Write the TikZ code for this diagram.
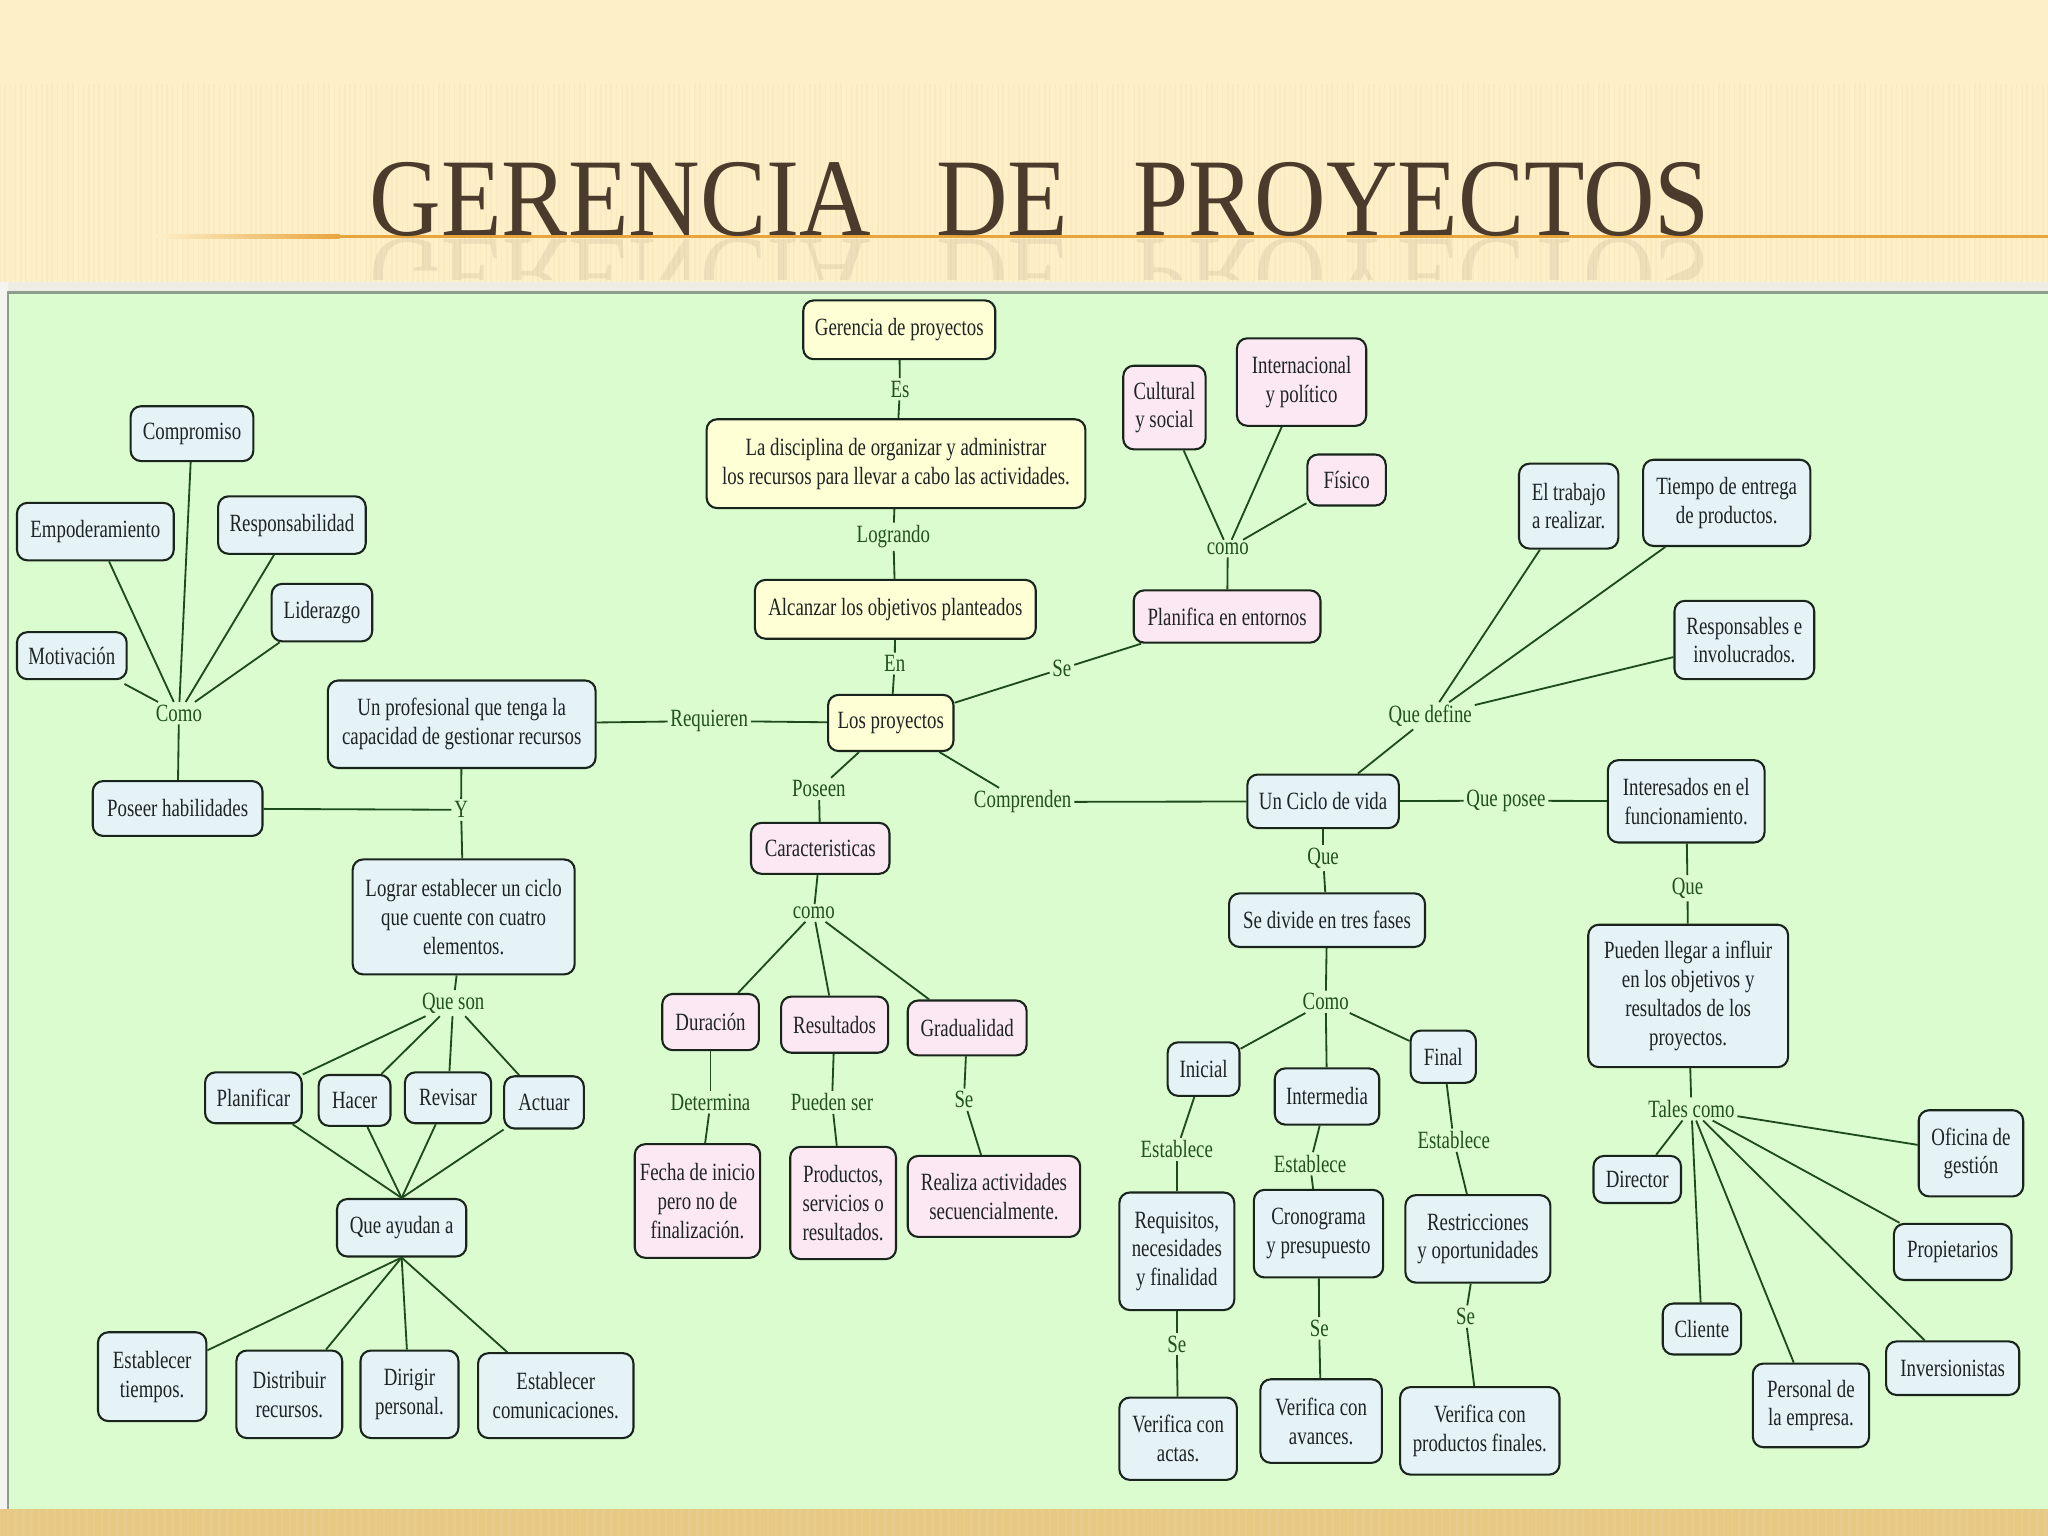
\documentclass[tikz,border=0pt]{standalone}
\usepackage{graphicx}
\usepackage{fontspec}
\setmainfont{Liberation Serif}[FakeStretch=0.76]
\newfontfamily\titlefont{Liberation Serif}
\usetikzlibrary{calc}
\definecolor{bgcream}{HTML}{FDF0C9}
\definecolor{stripec}{HTML}{E2B870}
\definecolor{graystrip}{HTML}{EDEDE6}
\definecolor{panelg}{HTML}{DBFCCF}
\definecolor{panelb}{HTML}{8E9E8E}
\definecolor{bandc}{HTML}{E8C984}
\definecolor{orng}{HTML}{E9A53C}
\definecolor{titlec}{HTML}{4A3B2C}
\definecolor{yel}{HTML}{FFFFD6}
\definecolor{pnk}{HTML}{FCE8F2}
\definecolor{blu}{HTML}{E5F3F7}
\definecolor{bord}{HTML}{18241C}
\definecolor{txt}{HTML}{1E2323}
\definecolor{lbl}{HTML}{22501D}
\definecolor{edg}{HTML}{1E4A1E}
\newcommand{\titletext}{GERENCIA\hspace{0.66em}DE\hspace{0.66em}PROYECTOS}
\begin{document}
\begin{tikzpicture}[x=1pt,y=-1pt,
  bx/.style={draw=bord, line width=1.6pt, rounded corners=8pt, text=txt, align=center, inner sep=0pt, font=\fontsize{19}{22}\selectfont},
  yb/.style={bx, fill=yel}, pb/.style={bx, fill=pnk}, bb/.style={bx, fill=blu},
  sz/.style 2 args={minimum width=#1, minimum height=#2},
  lb/.style={text=lbl, inner sep=2pt, font=\fontsize{19}{22}\selectfont},
  edge/.style={draw=edg, line width=1.4pt},
]
% ---------- background ----------
\useasboundingbox (0,0) rectangle (1568,1176);
\fill[bgcream] (0,0) rectangle (1568,1176);
\foreach \i in {0,4,...,1568} {\draw[stripec, opacity=0.10, line width=1.2pt] (\i,64) -- (\i,217);}
\shade[left color=bgcream, right color=orng] (118,179.8) rectangle (260,182.4);
\fill[orng] (260,179.8) rectangle (1568,182.4);
\node[anchor=base west, inner sep=0pt, text=titlec, font=\titlefont] (title) at (283,180) {\resizebox{1025pt}{56pt}{\titletext}};
\begin{scope}
  \clip (0,182.4) rectangle (1568,214);
  \node[anchor=north west, inner sep=0pt, text=titlec, text opacity=0.09, font=\titlefont] (refl) at (283,182.4) {\scalebox{1}[-1]{\resizebox{1025pt}{56pt}{\titletext}}};
\end{scope}
\fill[graystrip] (0,216) rectangle (1568,224);
\fill[graystrip!60!white] (0,216) rectangle (6,1155);
\fill[panelg] (6,224) rectangle (1568,1155);
\draw[panelb, line width=2pt] (6,1155) -- (6,224) -- (1568,224);
\fill[bandc] (0,1155) rectangle (1568,1176);
\foreach \i in {0,6,...,1568} {\draw[white, opacity=0.06, line width=2pt] (\i,1155) -- (\i,1176);}

% ---------- centre column ----------
\node[yb, sz={147}{45}] (g) at (688.5,252.5) {Gerencia de proyectos};
\node[yb, sz={290}{68}] (dis) at (686,355) {La disciplina de organizar y administrar\\los recursos para llevar a cabo las actividades.};
\node[yb, sz={215}{45}] (alc) at (685.5,466.5) {Alcanzar los objetivos planteados};
\node[yb, sz={96}{43}] (proy) at (682,553.5) {Los proyectos};
\node[lb] (es) at (689,298) {Es};
\node[lb] (log) at (684,411) {Logrando};
\node[lb] (en) at (685,508) {En};
\node[lb] (req) at (543,552) {Requieren};
\node[lb] (se1) at (813,512) {Se};
\node[lb] (pos) at (627,604) {Poseen};
\node[lb] (comp) at (783,614) {Comprenden};

% ---------- pink ----------
\node[pb, sz={63}{64}] (cult) at (891.5,312) {Cultural\\y social};
\node[pb, sz={99}{67}] (intl) at (996.5,292.5) {Internacional\\y político};
\node[pb, sz={60}{39}] (fis) at (1031,367.5) {Físico};
\node[lb] (como2) at (940,420) {como};
\node[pb, sz={143}{40}] (plan) at (939.5,472) {Planifica en entornos};
\node[pb, sz={106}{39}] (car) at (628,649.5) {Caracteristicas};
\node[lb] (como3) at (623,699) {como};
\node[pb, sz={74}{43}] (dur) at (544,782.5) {Duración};
\node[pb, sz={82}{43}] (res) at (639,784.5) {Resultados};
\node[pb, sz={91}{42}] (gra) at (740.5,787) {Gradualidad};
\node[lb] (det) at (544,844) {Determina};
\node[lb] (pue) at (637,844) {Pueden ser};
\node[lb] (se2) at (738,842) {Se};
\node[pb, sz={96}{87}] (fec) at (534,919.5) {Fecha de inicio\\pero no de\\finalización.};
\node[pb, sz={81}{86}] (prod) at (645.5,921) {Productos,\\servicios o\\resultados.};
\node[pb, sz={132}{62}] (rea) at (761,916) {Realiza actividades\\secuencialmente.};

% ---------- blue left ----------
\node[bb, sz={94}{42}] (cmp) at (147,332) {Compromiso};
\node[bb, sz={120}{44}] (emp) at (73,407) {Empoderamiento};
\node[bb, sz={113}{44}] (rsp) at (223.5,402) {Responsabilidad};
\node[bb, sz={77}{44}] (lid) at (246.5,469) {Liderazgo};
\node[bb, sz={84}{36}] (mot) at (55,502) {Motivación};
\node[lb] (como1) at (137,546) {Como};
\node[bb, sz={205}{67}] (prof) at (353.5,554.5) {Un profesional que tenga la\\capacidad de gestionar recursos};
\node[bb, sz={130}{42}] (pos2) at (136,619) {Poseer habilidades};
\node[lb] (yy) at (353,620) {Y};
\node[bb, sz={170}{88}] (logr) at (355,702) {Lograr establecer un ciclo\\que cuente con cuatro\\elementos.};
\node[lb] (qson) at (347,768) {Que son};
\node[bb, sz={74}{39}] (plani) at (194,840.5) {Planificar};
\node[bb, sz={55}{39}] (hac) at (271.5,842.5) {Hacer};
\node[bb, sz={66}{39}] (rev) at (343,840.5) {Revisar};
\node[bb, sz={61}{40}] (act) at (416.5,844) {Actuar};
\node[bb, sz={99}{44}] (qay) at (307.5,940) {Que ayudan a};
\node[bb, sz={83}{68}] (et) at (116.5,1054) {Establecer\\tiempos.};
\node[bb, sz={81}{67}] (dr) at (221.5,1067.5) {Distribuir\\recursos.};
\node[bb, sz={75}{67}] (dp) at (313.5,1067.5) {Dirigir\\personal.};
\node[bb, sz={119}{65}] (ec) at (425.5,1068.5) {Establecer\\comunicaciones.};

% ---------- blue right ----------
\node[bb, sz={116}{41}] (cic) at (1013,613.5) {Un Ciclo de vida};
\node[lb] (qdef) at (1095,548) {Que define};
\node[bb, sz={76}{65}] (trab) at (1201,387.5) {El trabajo\\a realizar.};
\node[bb, sz={128}{66}] (tiem) at (1322,385) {Tiempo de entrega\\de productos.};
\node[bb, sz={107}{60}] (resp) at (1335.5,490) {Responsables e\\involucrados.};
\node[lb] (qpos) at (1153,613) {Que posee};
\node[bb, sz={120}{63}] (int) at (1291,613.5) {Interesados en el\\funcionamiento.};
\node[lb] (que2) at (1292,680) {Que};
\node[bb, sz={153}{109}] (pued) at (1292.5,762.5) {Pueden llegar a influir\\en los objetivos y\\resultados de los\\proyectos.};
\node[lb] (tal) at (1295,849) {Tales como};
\node[bb, sz={67}{36}] (dirn) at (1253.5,903) {Director};
\node[bb, sz={80}{66}] (ofi) at (1509,883) {Oficina de\\gestión};
\node[bb, sz={90}{43}] (prop) at (1495,958.5) {Propietarios};
\node[bb, sz={60}{39}] (cli) at (1303,1017.5) {Cliente};
\node[bb, sz={102}{41}] (inv) at (1495,1047.5) {Inversionistas};
\node[bb, sz={89}{64}] (per) at (1386.5,1076) {Personal de\\la empresa.};
\node[lb] (que1) at (1013,657) {Que};
\node[bb, sz={150}{41}] (div) at (1016,704.5) {Se divide en tres fases};
\node[lb] (como4) at (1015,767) {Como};
\node[bb, sz={55}{41}] (ini) at (921.5,818.5) {Inicial};
\node[bb, sz={80}{43}] (inter) at (1016,839.5) {Intermedia};
\node[bb, sz={50}{40}] (fin) at (1105,809) {Final};
\node[lb] (est1) at (901,880) {Establece};
\node[lb] (est2) at (1003,891) {Establece};
\node[lb] (est3) at (1113,873) {Establece};
\node[bb, sz={88}{90}] (req2) at (901,958) {Requisitos,\\necesidades\\y finalidad};
\node[bb, sz={99}{67}] (cro) at (1009.5,944.5) {Cronograma\\y presupuesto};
\node[bb, sz={111}{67}] (rst) at (1131.5,948.5) {Restricciones\\y oportunidades};
\node[lb] (se3) at (901,1029) {Se};
\node[lb] (se4) at (1010,1017) {Se};
\node[lb] (se5) at (1122,1008) {Se};
\node[bb, sz={90}{63}] (va) at (902,1101.5) {Verifica con\\actas.};
\node[bb, sz={93}{64}] (vav) at (1011.5,1088) {Verifica con\\avances.};
\node[bb, sz={122}{67}] (vpf) at (1133,1095.5) {Verifica con\\productos finales.};

% ---------- connectors ----------
\draw[edge] (g) -- (es);  \draw[edge] (es) -- (dis);
\draw[edge] (dis) -- (log); \draw[edge] (log) -- (alc);
\draw[edge] (alc) -- (en); \draw[edge] (en) -- (proy);
\draw[edge] (proy) -- (req); \draw[edge] (req) -- (prof);
\draw[edge] (proy) -- (se1); \draw[edge] (se1) -- (plan);
\draw[edge] (plan) -- (como2);
\draw[edge] (como2) -- (cult); \draw[edge] (como2) -- (intl); \draw[edge] (como2) -- (fis);
\draw[edge] (proy) -- (pos); \draw[edge] (pos) -- (car);
\draw[edge] (proy) -- (comp); \draw[edge] (comp) -- (cic);
\draw[edge] (car) -- (como3);
\draw[edge] (como3) -- (dur); \draw[edge] (como3) -- (res); \draw[edge] (como3) -- (gra);
\draw[edge] (dur) -- (det); \draw[edge] (det) -- (fec);
\draw[edge] (res) -- (pue); \draw[edge] (pue) -- (prod);
\draw[edge] (gra) -- (se2); \draw[edge] (se2) -- (rea);
% left
\draw[edge] (como1) -- (cmp); \draw[edge] (como1) -- (emp); \draw[edge] (como1) -- (rsp);
\draw[edge] (como1) -- (lid); \draw[edge, shorten <=6pt] (mot) -- (como1);
\draw[edge] (como1) -- (pos2);
\draw[edge] (prof) -- (yy); \draw[edge] (pos2) -- (yy); \draw[edge] (yy) -- (logr);
\draw[edge] (logr) -- (qson);
\draw[edge] (qson) -- (plani); \draw[edge] (qson) -- (hac); \draw[edge] (qson) -- (rev); \draw[edge] (qson) -- (act);
\draw[edge] (plani) -- (qay.north); \draw[edge] (hac) -- (qay.north); \draw[edge] (rev) -- (qay.north); \draw[edge] (act) -- (qay.north);
\draw[edge] (qay.south) -- (et); \draw[edge] (qay.south) -- (dr); \draw[edge] (qay.south) -- (dp); \draw[edge] (qay.south) -- (ec);
% right
\draw[edge] (cic) -- (qdef);
\draw[edge] (qdef) -- (trab); \draw[edge] (qdef) -- (tiem); \draw[edge] (qdef) -- (resp);
\draw[edge] (cic) -- (qpos); \draw[edge] (qpos) -- (int);
\draw[edge] (int) -- (que2); \draw[edge] (que2) -- (pued);
\draw[edge] (pued) -- (tal);
\draw[edge] (tal) -- (dirn); \draw[edge] (tal) -- (cli); \draw[edge] (tal) -- (per);
\draw[edge] (tal) -- (inv); \draw[edge] (tal) -- (prop); \draw[edge] (tal) -- (ofi);
\draw[edge] (cic) -- (que1); \draw[edge] (que1) -- (div);
\draw[edge] (div) -- (como4);
\draw[edge] (como4) -- (ini); \draw[edge] (como4) -- (inter); \draw[edge] (como4) -- (fin);
\draw[edge] (ini) -- (est1); \draw[edge] (est1) -- (req2);
\draw[edge] (inter) -- (est2); \draw[edge] (est2) -- (cro);
\draw[edge] (fin) -- (est3); \draw[edge] (est3) -- (rst);
\draw[edge] (req2) -- (se3); \draw[edge] (se3) -- (va);
\draw[edge] (cro) -- (se4); \draw[edge] (se4) -- (vav);
\draw[edge] (rst) -- (se5); \draw[edge] (se5) -- (vpf);
\end{tikzpicture}
\end{document}
